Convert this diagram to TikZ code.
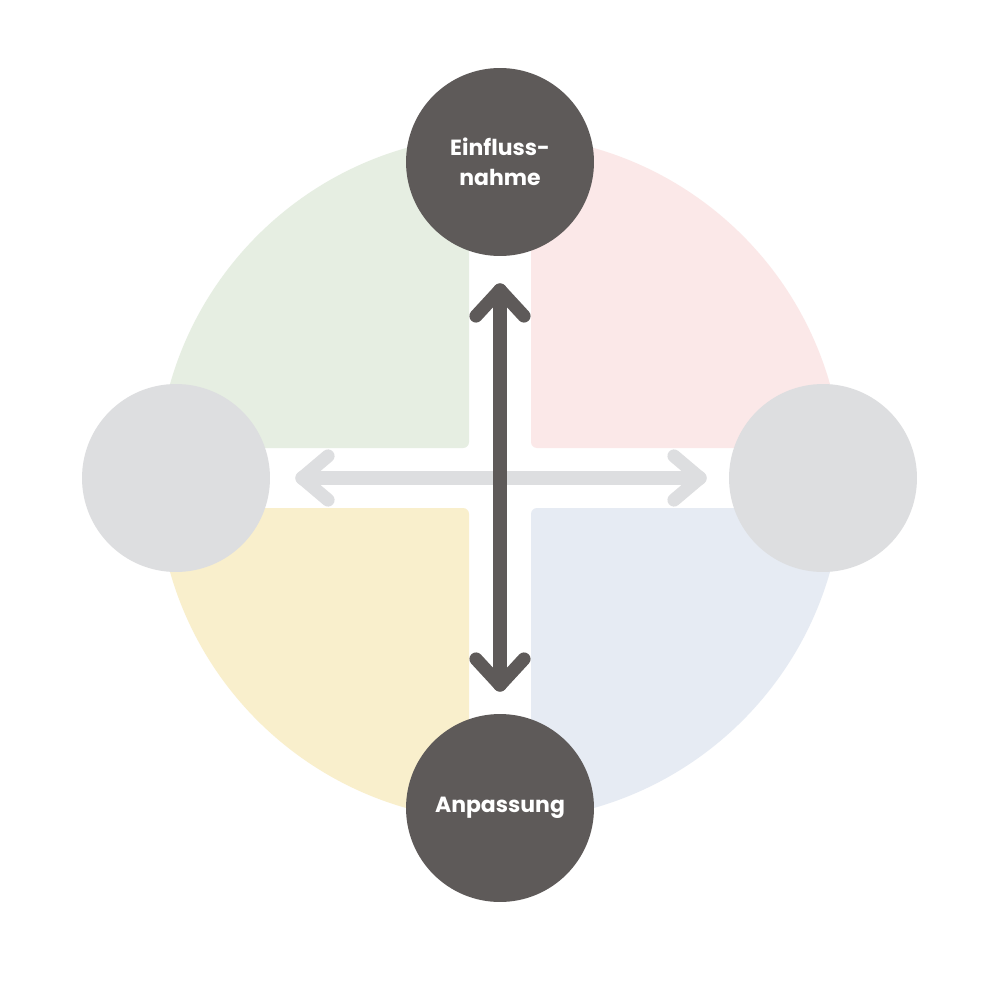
\documentclass[tikz,border=0pt]{standalone}
\usepackage{fontspec}
\setmainfont{Poppins}
\begin{document}
\begin{tikzpicture}[x=0.02cm,y=-0.02cm,
  quad/.style={rounded corners=0.12cm},
  bigc/.style={circle,minimum size=3.76cm,inner sep=0pt,fill=#1},
  lbl/.style={text=white,font=\bfseries\fontsize{12.5}{17}\selectfont,align=center},
  arr/.style={line width=7.5pt,line cap=round,line join=round}]
\useasboundingbox (0,0) rectangle (1000,1000);
\fill[white] (0,0) rectangle (1000,1000);
\begin{scope}
\clip (500,478) circle[radius=343];
\fill[quad,fill={rgb,255:red,230;green,238;blue,226}] (100,100) rectangle (469,448);
\fill[quad,fill={rgb,255:red,251;green,232;blue,232}] (531,100) rectangle (900,448);
\fill[quad,fill={rgb,255:red,249;green,239;blue,204}] (100,508) rectangle (469,900);
\fill[quad,fill={rgb,255:red,230;green,235;blue,243}] (531,508) rectangle (900,900);
\end{scope}
\definecolor{dk}{RGB}{94,90,89}
\definecolor{lg}{RGB}{221,222,224}
\node[bigc=lg] (L) at (176,478) {};
\node[bigc=lg] (R) at (823,478) {};
\node[bigc=dk,lbl] (T) at (500,162) {Einfluss-\\nahme};
\node[bigc=dk,lbl] (B) at (500,808) {Anpassung};
\coordinate (ht1) at (302,478); \coordinate (ht2) at (700,478);
\coordinate (vt1) at (500,290); \coordinate (vt2) at (500,685);
\draw[arr,lg] (ht1) -- (ht2);
\draw[arr,lg] (328,456) -- (ht1) -- (328,500);
\draw[arr,lg] (674,456) -- (ht2) -- (674,500);
\draw[arr,dk] (vt1) -- (vt2);
\draw[arr,dk] (476,316) -- (vt1) -- (524,316);
\draw[arr,dk] (476,659) -- (vt2) -- (524,659);
\end{tikzpicture}
\end{document}
